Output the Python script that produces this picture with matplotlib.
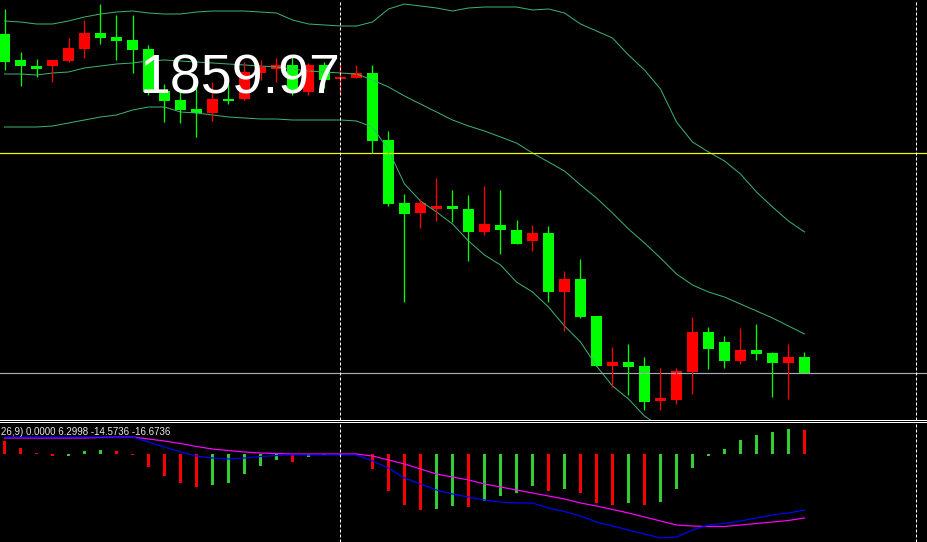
import numpy as np
import matplotlib
matplotlib.use("Agg")
import matplotlib.pyplot as plt

# candle data (price), oldest -> newest
opens = [1893.87, 1891.27, 1890.67, 1890.67, 1891.17, 1892.37, 1893.97, 1893.57, 1893.27, 1892.37,
         1888.17, 1887.27, 1886.37, 1885.97, 1887.37, 1887.37, 1889.97, 1890.37, 1890.77, 1888.07,
         1890.77, 1889.37, 1889.47, 1889.97, 1883.27, 1876.97, 1875.97, 1876.37, 1876.67, 1876.37,
         1874.07, 1874.77, 1874.27, 1873.17, 1873.97, 1868.07, 1869.37, 1865.67, 1860.67, 1861.07,
         1860.67, 1857.17, 1857.27, 1860.07, 1864.07, 1863.07, 1861.17, 1862.27, 1861.97, 1860.97,
         1861.57]
highs = [1896.37, 1892.07, 1891.37, 1891.27, 1893.47, 1895.27, 1896.87, 1895.77, 1895.77, 1892.77,
         1888.87, 1888.07, 1889.57, 1889.07, 1888.87, 1891.07, 1891.27, 1891.47, 1891.57, 1890.97,
         1891.07, 1891.07, 1890.77, 1890.77, 1884.17, 1877.87, 1877.37, 1879.47, 1878.27, 1877.77,
         1878.67, 1878.27, 1875.27, 1874.77, 1874.67, 1870.17, 1871.37, 1865.67, 1862.57, 1862.87,
         1861.57, 1860.47, 1860.47, 1865.57, 1864.57, 1863.67, 1864.47, 1864.87, 1862.07, 1862.87,
         1862.07]
lows = [1890.27, 1888.67, 1889.57, 1889.07, 1891.07, 1891.47, 1892.87, 1891.27, 1889.97, 1887.77,
        1885.07, 1884.97, 1883.57, 1885.17, 1886.87, 1887.27, 1889.27, 1889.07, 1887.77, 1887.77,
        1888.47, 1887.97, 1889.47, 1881.97, 1876.67, 1867.07, 1874.47, 1875.17, 1875.07, 1871.17,
        1873.77, 1871.87, 1872.87, 1872.17, 1867.07, 1864.17, 1865.47, 1860.67, 1858.57, 1857.77,
        1856.27, 1856.27, 1856.87, 1857.87, 1860.37, 1860.47, 1860.87, 1861.27, 1857.57, 1857.37,
        1859.97]
closes = [1891.07, 1890.67, 1890.37, 1891.27, 1892.47, 1893.97, 1893.47, 1893.17, 1892.27, 1888.07,
          1887.17, 1886.27, 1885.97, 1887.37, 1887.17, 1890.07, 1890.57, 1890.77, 1888.07, 1890.77,
          1889.27, 1889.57, 1889.97, 1883.17, 1876.87, 1875.87, 1876.97, 1876.67, 1876.37, 1874.07,
          1874.87, 1874.27, 1872.87, 1873.97, 1868.07, 1869.37, 1865.57, 1860.67, 1861.07, 1860.57,
          1857.07, 1857.47, 1860.17, 1864.07, 1862.37, 1861.17, 1862.27, 1861.87, 1860.97, 1861.57,
          1859.97]

# bollinger bands
bb_upper = [1895.17, 1895.07, 1894.87, 1894.87, 1895.17, 1895.57, 1895.87, 1896.07, 1896.17, 1895.97,
            1895.87, 1895.87, 1896.07, 1896.17, 1896.17, 1896.17, 1896.07, 1895.97, 1895.27, 1894.87,
            1894.77, 1894.67, 1894.67, 1895.07, 1896.37, 1896.87, 1896.67, 1896.47, 1896.17, 1896.47,
            1896.57, 1896.57, 1896.57, 1896.27, 1896.37, 1895.97, 1894.87, 1894.17, 1893.47, 1891.77,
            1890.27, 1888.37, 1885.07, 1883.07, 1882.07, 1881.17, 1879.87, 1878.07, 1876.57, 1875.17,
            1874.07]
bb_mid = [1889.87, 1889.87, 1889.77, 1889.97, 1890.07, 1890.47, 1890.67, 1890.87, 1890.97, 1891.17,
          1891.27, 1891.17, 1891.07, 1890.97, 1890.87, 1890.77, 1890.67, 1890.57, 1890.37, 1890.17,
          1890.07, 1889.97, 1889.87, 1889.27, 1888.57, 1887.67, 1886.87, 1886.07, 1885.27, 1884.67,
          1884.17, 1883.57, 1882.97, 1881.97, 1881.07, 1880.17, 1878.77, 1877.47, 1875.97, 1874.37,
          1872.97, 1871.47, 1869.87, 1868.77, 1868.07, 1867.57, 1866.87, 1866.17, 1865.47, 1864.67,
          1863.87]
bb_lower = [1884.57, 1884.57, 1884.57, 1884.67, 1884.97, 1885.27, 1885.57, 1885.77, 1886.27, 1886.57,
            1886.57, 1886.07, 1885.97, 1885.77, 1885.57, 1885.47, 1885.37, 1885.37, 1885.27, 1885.27,
            1885.27, 1885.27, 1885.17, 1884.57, 1882.27, 1878.87, 1877.17, 1876.07, 1874.87, 1873.17,
            1871.77, 1870.77, 1869.07, 1868.07, 1866.57, 1864.67, 1863.07, 1860.67, 1858.67, 1857.37,
            1855.67, 1854.57, 1854.67, 1854.47, 1854.07, 1853.97, 1853.87, 1854.27, 1854.37, 1854.17,
            1853.67]

# MACD style indicator
hist = [3.38, 1.56, 0.26, -0.52, -0.47, 0.78, 1.04, 0.78, -0.13, -3.38,
        -5.72, -7.54, -8.58, -8.06, -7.54, -5.20, -3.12, -1.56, -2.08, -0.78,
        -0.26, -0.16, -0.21, -3.90, -9.62, -13.26, -14.43, -14.30, -13.52, -13.65,
        -12.22, -10.92, -10.14, -8.32, -9.62, -9.10, -10.14, -12.74, -13.26, -12.74,
        -13.26, -12.48, -9.10, -3.64, -0.39, 1.30, 3.64, 4.94, 5.72, 6.50,
        6.30]
macd_main = [4.42, 4.42, 4.42, 4.42, 4.42, 4.42, 4.42, 4.42, 4.42, 3.12,
             1.82, 0.52, -0.52, -1.04, -1.30, -1.04, -0.65, -0.39, -0.26, -0.26,
             -0.26, -0.26, -0.26, -1.82, -3.64, -6.24, -7.80, -9.36, -10.40, -11.18,
             -11.96, -12.48, -12.74, -12.74, -14.04, -14.95, -16.12, -17.68, -18.72, -19.76,
             -20.80, -21.84, -21.58, -19.76, -18.46, -18.07, -17.42, -16.64, -15.86, -15.34,
             -14.57]
macd_signal = [4.16, 4.16, 4.16, 4.16, 4.16, 4.16, 4.30, 4.42, 4.42, 3.90,
               3.38, 2.73, 1.95, 1.30, 0.91, 0.52, 0.26, 0.13, 0.00, 0.00,
               0.00, 0.00, 0.00, -0.52, -1.56, -2.60, -3.90, -5.20, -5.98, -6.76,
               -7.80, -8.58, -9.36, -10.14, -10.92, -11.70, -12.74, -13.52, -14.43, -15.34,
               -16.38, -17.42, -18.46, -18.72, -18.85, -18.85, -18.46, -18.07, -17.68, -17.29,
               -16.64]

level_line = 1881.97
bid = 1859.97
separators = [21, 57]
macd_label = "26,9) 0.0000 6.2998 -14.5736 -16.6736"

px = 0.72  # one pixel in points at dpi 100
x = np.arange(len(opens))
o = np.array(opens); c = np.array(closes)
bear = c < o
ccol = np.where(bear, "#00ff00", "#ff0000")

fig = plt.figure(figsize=(9.27, 5.42), dpi=100, facecolor="black")
ax = fig.add_axes([0, 122 / 542, 1, 420 / 542], facecolor="black")
ax2 = fig.add_axes([0, 0, 1, 120 / 542], facecolor="black")

# price panel
ax.plot(x, bb_upper, color="#3cb371", lw=px)
ax.plot(x, bb_mid, color="#3cb371", lw=px)
ax.plot(x, bb_lower, color="#3cb371", lw=px)
ax.axhline(level_line, color="#ffff00", lw=px * 1.2)
ax.axhline(bid, color="#a9aab6", lw=px * 1.2)
ax.vlines(x, lows, highs, colors=ccol, lw=px * 1.3)
ax.bar(x, np.abs(c - o), bottom=np.minimum(o, c), width=11 / 16, color=ccol, linewidth=0)
ax.text(140 / 927, 1 - 94 / 420, f"{bid:.2f}", transform=ax.transAxes, color="white",
        fontsize=40, family="Liberation Sans", va="baseline", ha="left")

# indicator panel
hcol = ["#ff0000"] + ["#32cd32" if hist[i] >= hist[i - 1] else "#ff0000" for i in range(1, len(hist))]
ax2.bar(x, hist, width=2.4 / 16, color=hcol, linewidth=0)
ax2.plot(x, macd_signal, color="#ff00ff", lw=px * 1.2)
ax2.plot(x, macd_main, color="#0000ff", lw=px * 1.2)
ax2.text(1 / 927, 1 - 10 / 120, macd_label, transform=ax2.transAxes, color="#e8e8e8",
         fontsize=7, family="Liberation Sans", va="center", ha="left")

for a in (ax, ax2):
    for s in separators:
        a.axvline(s, color="white", lw=px, linestyle=(0, (3, 2)))
    a.set_xlim(-4.5 / 16, (927 - 4.5) / 16)
    a.set_xticks([]); a.set_yticks([])
    for sp in a.spines.values():
        sp.set_visible(False)

ax.set_ylim(1855.27, 1897.27)
ax2.set_ylim(-22.88, 8.32)
ax.spines["bottom"].set_visible(True)
ax.spines["bottom"].set_color("white")
ax.spines["bottom"].set_linewidth(px)
ax2.spines["top"].set_visible(True)
ax2.spines["top"].set_color("white")
ax2.spines["top"].set_linewidth(px)

fig.savefig("out.png", dpi=100, facecolor="black")
